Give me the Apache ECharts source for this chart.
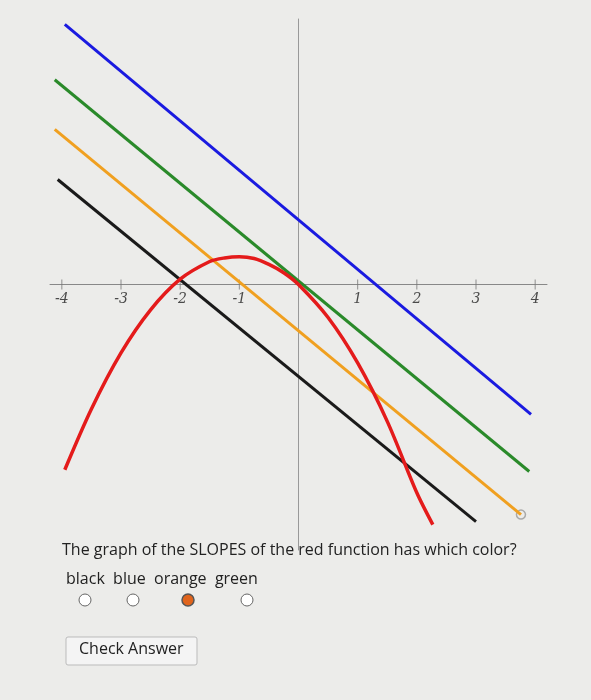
<!DOCTYPE html>
<html><head><meta charset="utf-8">
<script src="https://cdn.jsdelivr.net/npm/echarts@6/dist/echarts.min.js"></script>
<style>body{margin:0;background:#ececea}#c{width:591px;height:700px}</style>
</head><body><div id="c"></div>
<script>
var xTicks = [-4, -3, -2, -1, 1, 2, 3, 4];
var blueLine = [[-3.95, 4.41], [3.93, -2.20]];
var greenLine = [[-4.12, 3.47], [3.90, -3.17]];
var orangeLine = [[-4.12, 2.63], [3.76, -3.90]];
var blackLine = [[-4.07, 1.78], [3.0, -4.02]];
var redX = [-3.95, -3.5, -3, -2.5, -2, -1.5, -1.25, -1, -0.75, -0.5, -0.25, 0, 0.5, 1, 1.5, 2, 2.27];
var redY = [-3.14, -2.11, -1.16, -0.43, 0.09, 0.39, 0.45, 0.47, 0.44, 0.34, 0.2, 0, -0.56, -1.33, -2.32, -3.53, -4.07];
var choices = ['black', 'blue', 'orange', 'green'];

var chart = echarts.init(document.getElementById('c'));
function line(data, color) {
    return {type: 'line', data: data, showSymbol: false, lineStyle: {color: color, width: 3}, z: 3};
}
var optGraphic = [
    {type: 'text', left: 62, top: 542, style: {text: 'The graph of the SLOPES of the red function has which color?', font: '16px "Open Sans"', fill: '#222'}},
    {type: 'text', left: 66, top: 571, style: {text: choices.join('  '), font: '16px "Open Sans"', fill: '#222'}},
    {type: 'rect', shape: {x: 66, y: 637, width: 131, height: 28, r: 2}, style: {fill: '#f4f4f4', stroke: '#bbb'}},
    {type: 'text', left: 79, top: 641, style: {text: 'Check Answer', font: '16px "Open Sans"', fill: '#222'}}
];
var radioX = [85, 133, 188, 247];
radioX.forEach(function(x, i) {
    optGraphic.push({type: 'circle', shape: {cx: x, cy: 600, r: 6},
        style: i === 2 ? {fill: '#e0641c', stroke: '#555', lineWidth: 1.5} : {fill: '#fff', stroke: '#666', lineWidth: 1}});
});

chart.setOption({
    backgroundColor: '#ececea',
    animation: false,
    grid: {left: 50, width: 497, top: 19, height: 531},
    xAxis: {type: 'value', min: -4.2, max: 4.2, interval: 1, splitLine: {show: false},
        axisLine: {onZero: true, lineStyle: {color: '#888'}},
        axisTick: {show: false},
        axisLabel: {show: false}},
    yAxis: {type: 'value', min: -4.5, max: 4.5, splitLine: {show: false},
        axisLine: {onZero: true, lineStyle: {color: '#999'}},
        axisTick: {show: false}, axisLabel: {show: false}},
    graphic: optGraphic,
    series: [
        {type: 'scatter', data: xTicks.map(function(t) { return [t, 0]; }), symbol: 'rect', symbolSize: [1, 10],
            itemStyle: {color: '#777'},
            label: {show: true, position: 'bottom', distance: 3, formatter: function(p) { return p.value[0]; },
                fontStyle: 'italic', fontFamily: 'DejaVu Serif', fontSize: 14, color: '#222'}},
        line(blueLine, '#1a1ae0'),
        line(greenLine, '#2a8a2a'),
        line(orangeLine, '#f0a020'),
        line(blackLine, '#1a1a1a'),
        {type: 'scatter', data: [orangeLine[1]], symbol: 'circle', symbolSize: 9,
            itemStyle: {color: 'transparent', borderColor: '#999', borderWidth: 1.5}},
        {type: 'line', data: redX.map(function(x, i) { return [x, redY[i]]; }), smooth: 0.3, showSymbol: false,
            lineStyle: {color: '#e41b1b', width: 3.5}, z: 4}
    ]
});
</script></body></html>
